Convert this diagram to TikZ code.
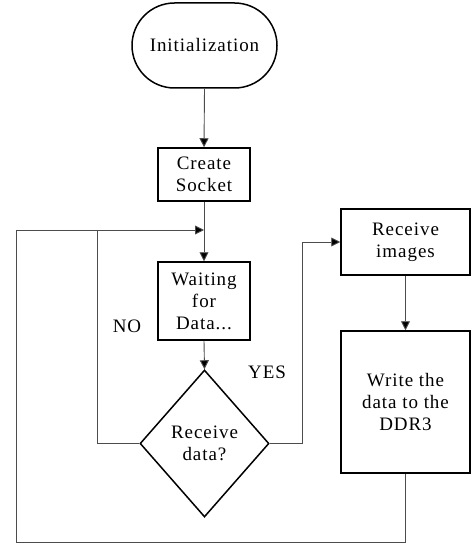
\documentclass[tikz,border=0pt]{standalone}
\usepackage{fontspec}
\setmainfont[LetterSpace=5]{Liberation Serif}
\usetikzlibrary{shapes.geometric,shapes.misc,arrows.meta}
\begin{document}
\begin{tikzpicture}[x=1pt,y=-1pt,
  font=\fontsize{19}{22}\selectfont,
  boxstyle/.style={draw=black,line width=1.5pt,align=center,inner sep=0pt},
  conn/.style={draw=black!70,line width=0.9pt},
  arr/.style={conn,-{Triangle[length=9pt,width=9pt,fill=black]}}]
\useasboundingbox (0,0) rectangle (474,556);
\node[boxstyle,rounded rectangle,minimum width=145pt,minimum height=85pt] (init) at (204.5,45.5) {Initialization};
\node[boxstyle,rectangle,minimum width=92pt,minimum height=53pt] (sock) at (204,174.5) {Create\\Socket};
\node[boxstyle,rectangle,minimum width=92pt,minimum height=78pt] (wait) at (204,301) {Waiting\\for\\Data...};
\node[boxstyle,diamond,minimum width=129pt,minimum height=147pt,aspect=0.88] (dec) at (204.5,443.5) {Receive\\data?};
\node[boxstyle,rectangle,minimum width=129pt,minimum height=66pt] (recv) at (405.5,242) {Receive\\images};
\node[boxstyle,rectangle,minimum width=129pt,minimum height=142pt] (write) at (405.5,402) {Write the\\data to the\\DDR3};
\coordinate (j) at (204,230);
\coordinate (bl) at (16,542);
\coordinate (tl) at (16,230);
\coordinate (br) at (405.5,542);
\coordinate (nob) at (97,443.5);
\coordinate (not) at (97,230);
\coordinate (yb) at (302,443.5);
\coordinate (yt) at (302,242);
\draw[arr] (init.south) -- (sock.north);
\draw[arr] (sock.south) -- (wait.north);
\draw[arr] (wait.south) -- (dec.north);
\draw[arr] (recv.south) -- (write.north);
\draw[arr] (write.south) -- (br) -- (bl) -- (tl) -- (j);
\draw[conn] (dec.west) -- (nob) -- (not);
\draw[arr] (dec.east) -- (yb) -- (yt) -- (recv.west);
\node (nolab) at (127,326) {NO};
\node (yeslab) at (267,372) {YES};
\end{tikzpicture}
\end{document}
